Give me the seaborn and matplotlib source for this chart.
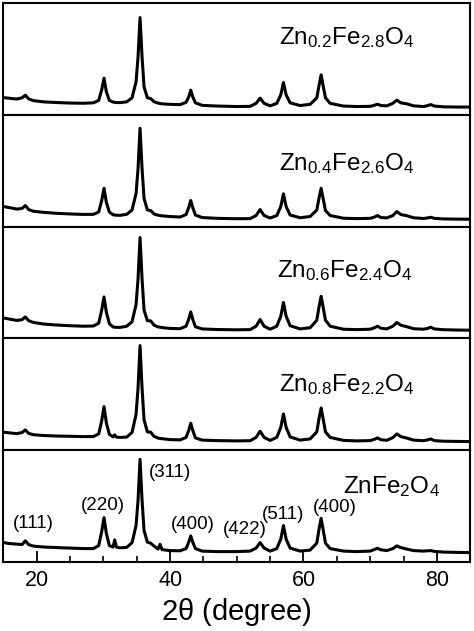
import numpy as np
import pandas as pd
import matplotlib
matplotlib.use("Agg")
import matplotlib.pyplot as plt
from matplotlib.ticker import MultipleLocator
import seaborn as sns

two_theta = [
    15, 16, 17, 17.8, 18.3, 18.8, 19.5, 21, 23, 25,
    27, 28.5, 29.3, 29.75, 30.1, 30.45, 30.9, 31.45, 31.7, 31.95,
    32.5, 33.5, 34.3, 34.9, 35.2, 35.5, 35.8, 36.1, 36.6, 37.1,
    37.6, 38.2, 38.5, 38.8, 40, 41.5, 42.4, 42.8, 43.1, 43.4,
    43.8, 44.8, 47, 50, 52, 52.9, 53.5, 54.1, 55, 56,
    56.6, 57.0, 57.4, 58, 59.5, 61, 62.0, 62.35, 62.65, 62.95,
    63.3, 64, 66, 68, 70, 70.6, 71.1, 71.6, 72.5, 73.4,
    74.0, 74.6, 75.5, 76.5, 78, 78.6, 79.1, 79.6, 81, 83, 85,
]

# intensities (arb. units, per panel)
int_zn02 = [
    17.3, 16.5, 15.8, 17.0, 19.7, 16.0, 14.2, 13.0, 12.3, 11.8,
    11.6, 12.0, 14.5, 25, 36.7, 23, 14.5, 12.8, 12.5, 12.3,
    12.2, 13.0, 17, 33, 58, 97.3, 58, 28, 17, 16.3,
    13.0, 11.8, 11.3, 11.0, 10.5, 10.2, 12.5, 18, 24.7, 18,
    12, 9.5, 8.8, 8.3, 8.5, 11.5, 16.7, 11.5, 9.0, 11.5,
    20, 32.3, 20, 12, 9.3, 10.5, 17, 30, 40, 29,
    17, 11.5, 8.8, 8.3, 8.5, 9.5, 10.7, 9.3, 9.0, 11.5,
    14.7, 12, 11.0, 9.0, 8.3, 9.2, 10.3, 8.8, 8.0, 7.8, 7.8,
]
int_zn04 = [
    20.0, 18.8, 17.5, 18.0, 21.0, 17.0, 15.3, 14.2, 13.2, 12.6,
    12.1, 12.2, 14.5, 26, 38.3, 24, 14.5, 11.8, 11.5, 11.3,
    11.2, 12.2, 16.5, 33, 58, 98.3, 58, 28, 16.5, 16.0,
    12.5, 11.3, 11.0, 10.7, 10.0, 9.5, 12, 19, 26.0, 19,
    11.5, 9.0, 8.2, 7.8, 7.9, 11, 17.0, 11, 8.5, 11,
    20, 32.7, 20, 11.5, 8.8, 10.0, 16.5, 29, 38.3, 28,
    16, 11, 8.3, 7.9, 8.2, 9.3, 11.0, 9.0, 8.6, 11,
    15.0, 12, 10.8, 8.8, 8.0, 8.6, 9.3, 8.2, 7.6, 7.4, 7.3,
]
int_zn06 = [
    20.3, 19.0, 17.8, 18.5, 21.3, 17.5, 15.8, 14.2, 13.2, 12.5,
    12.0, 12.2, 15, 28, 41.3, 26, 14.5, 11.3, 11.0, 10.9,
    10.8, 12.0, 16.5, 33.5, 59.5, 100.7, 59.5, 28, 17.5, 17.3,
    13.0, 11.3, 11.0, 10.6, 9.8, 9.5, 12, 19, 26.3, 19,
    11.5, 9.3, 8.7, 8.4, 8.6, 12, 18.7, 12, 9.0, 12,
    22, 35.7, 22, 12.5, 9.3, 10.5, 18, 32, 42, 31,
    18, 12, 9.0, 8.6, 9.0, 10.3, 12.0, 10.0, 9.3, 12,
    15.7, 13, 11.5, 9.5, 9.0, 9.8, 11.0, 9.3, 8.5, 8.2, 8.0,
]
int_zn08 = [
    17.7, 17.0, 16.3, 17.3, 20.0, 16.5, 15.2, 14.4, 13.9, 13.6,
    13.3, 13.4, 16, 29, 43.3, 27, 15.5, 13.0, 15.0, 12.8,
    12.5, 12.8, 17.5, 35.5, 62, 104.3, 62, 30, 18, 17.7,
    13.5, 11.8, 11.5, 11.2, 10.3, 10.0, 12.5, 19.5, 26.7, 19.5,
    12, 9.8, 9.3, 9.0, 9.2, 12.5, 18.7, 12.5, 9.5, 12.5,
    22.5, 36, 22.5, 13, 9.8, 11, 18, 32, 42, 31,
    18, 12.5, 9.5, 9.0, 9.3, 10.5, 12.0, 10.2, 9.6, 12.3,
    16.0, 13.3, 11.8, 9.8, 9.2, 10.0, 11.0, 9.3, 8.7, 8.5, 8.3,
]
int_zn10 = [
    19.0, 18.0, 17.5, 17.0, 20.7, 17.0, 15.5, 14.6, 14.0, 13.5,
    13.0, 13.0, 16, 30, 44, 28, 16, 14.5, 21.7, 14.5,
    13.8, 14.2, 19, 36, 61.5, 102.3, 61.5, 31, 19.5, 18.3,
    15.5, 12.5, 17.3, 12.0, 11.0, 10.8, 13, 19.5, 25.7, 19.5,
    13, 10.5, 10.0, 10.0, 10.5, 13.5, 19, 13.5, 10.5, 13,
    22.5, 36, 22.5, 13.5, 10.5, 11.5, 18.5, 33, 43.3, 32,
    18.5, 13, 10.5, 10.0, 10.5, 12, 13.3, 11.8, 11.0, 13,
    15.7, 14, 12.5, 11.0, 10.5, 10.8, 11.0, 10.2, 9.5, 9.2, 9.0,
]

samples = [r"Zn$_{0.2}$Fe$_{2.8}$O$_4$", r"Zn$_{0.4}$Fe$_{2.6}$O$_4$",
           r"Zn$_{0.6}$Fe$_{2.4}$O$_4$", r"Zn$_{0.8}$Fe$_{2.2}$O$_4$",
           r"ZnFe$_2$O$_4$"]
intensities = [int_zn02, int_zn04, int_zn06, int_zn08, int_zn10]

hkl_labels = ["(111)", "(220)", "(311)", "(400)", "(422)", "(511)", "(400)"]

# placement of texts (data coords of each panel)
name_pos = [(56.3, 70.5), (56.3, 56.3), (56.1, 61.4), (56.3, 59.3), (65.9, 68.4)]
hkl_pos = [(19.5, 37.7), (30.0, 55.7), (40.0, 89.0), (43.4, 36.7),
           (51.2, 31.7), (57.0, 46.7), (64.65, 54.4)]

sns.set_theme(style="white")
plt.rcParams["font.family"] = ["Liberation Sans", "DejaVu Sans"]
plt.rcParams["mathtext.fontset"] = "custom"
plt.rcParams["mathtext.rm"] = "Liberation Sans"
plt.rcParams["mathtext.it"] = "Liberation Sans:italic"
plt.rcParams["mathtext.default"] = "regular"
plt.rcParams["text.color"] = "black"
plt.rcParams["axes.labelcolor"] = "black"
plt.rcParams["xtick.color"] = "black"

fig, axes = plt.subplots(5, 1, sharex=True, figsize=(4.74, 6.31), dpi=100,
                         gridspec_kw=dict(hspace=0))
fig.subplots_adjust(left=0.007, right=0.992, top=0.995, bottom=0.11)

for i, ax in enumerate(axes):
    df = pd.DataFrame({"two_theta": two_theta, "I": intensities[i]})
    sns.lineplot(data=df, x="two_theta", y="I", ax=ax, color="black",
                 lw=2.2, sort=False)
    ax.set_xlim(15, 85)
    ax.set_ylim(0, 111.7)
    ax.set_yticks([])
    ax.set_ylabel("")
    ax.set_xlabel("")
    for sp in ax.spines.values():
        sp.set_color("black")
        sp.set_linewidth(1.5)
    ax.text(name_pos[i][0], name_pos[i][1], samples[i], fontsize=17.5,
            ha="left", va="baseline")
    if i < 4:
        ax.tick_params(axis="x", which="both", bottom=False, top=False,
                       labelbottom=False)

bot = axes[-1]
for lab, (hx, hy) in zip(hkl_labels, hkl_pos):
    bot.text(hx, hy, lab, fontsize=13.5, ha="center", va="center")

bot.xaxis.set_major_locator(MultipleLocator(20))
bot.xaxis.set_minor_locator(MultipleLocator(5))
bot.tick_params(axis="x", which="major", direction="in", length=8, width=1.3,
                labelsize=15.5, pad=6, bottom=True, colors="black")
bot.tick_params(axis="x", which="minor", direction="in", length=4.5, width=1.2,
                bottom=True)
bot.set_xlabel(r"2$\theta$ (degree)", fontsize=21, labelpad=4)

fig.savefig("out.png", dpi=100)
